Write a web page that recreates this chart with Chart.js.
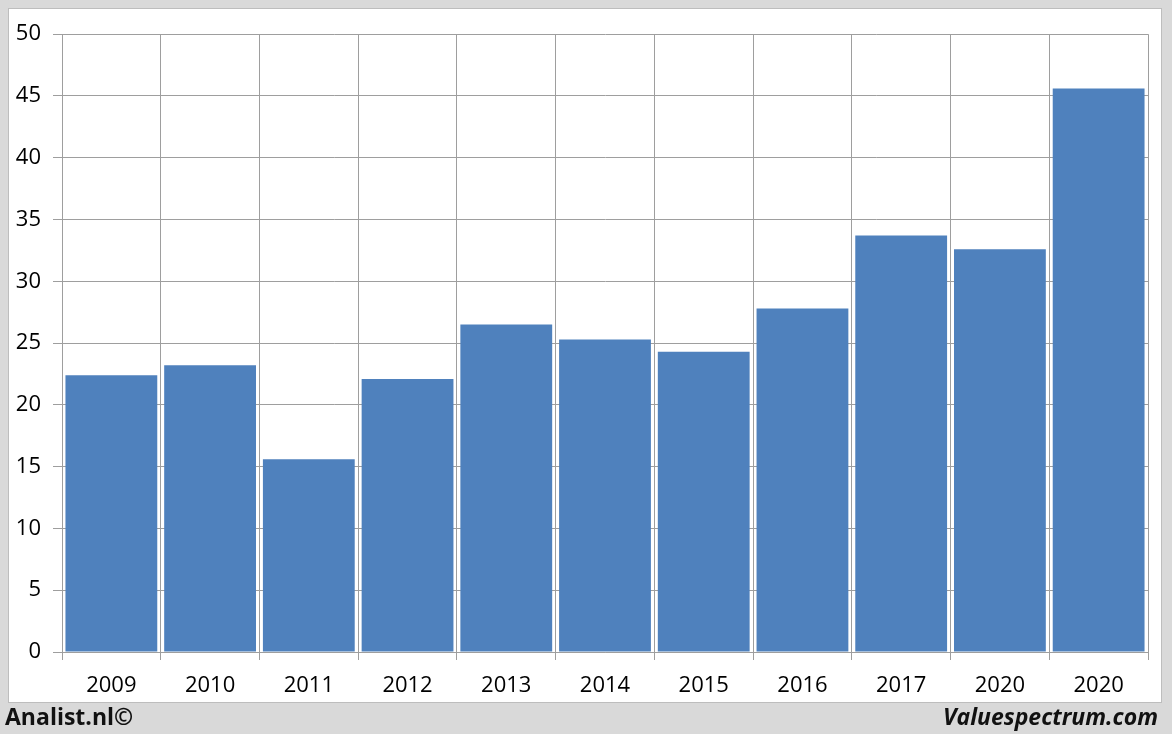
<!DOCTYPE html>
<html>
<head>
<meta charset="utf-8">
<script src="https://cdn.jsdelivr.net/npm/chart.js@4.4.1/dist/chart.umd.min.js"></script>
<style>
  html, body { margin: 0; padding: 0; }
  body { width: 1172px; height: 734px; background: #d9d9d9; position: relative; overflow: hidden; font-family: "Open Sans", sans-serif; }
  #panel { position: absolute; left: 8px; top: 8px; width: 1152px; height: 693px; background: #fff; border: 1px solid #bdbdbd; }
  #footer-left { position: absolute; left: 5px; top: 700px; font-weight: bold; font-size: 23px; color: #111; }
  #footer-right { position: absolute; right: 14px; top: 700px; font-weight: bold; font-style: italic; font-size: 23px; color: #111; }
</style>
</head>
<body>
<div id="panel"><canvas id="chart" width="1152" height="693"></canvas></div>
<div id="footer-left">Analist.nl©</div>
<div id="footer-right">Valuespectrum.com</div>
<script>
// Years on the x axis (the last two are both labelled 2020 in the source)
const years = ['2009', '2010', '2011', '2012', '2013', '2014', '2015', '2016', '2017', '2020', '2020'];
// Bar heights
const values = [22.4, 23.2, 15.6, 22.1, 26.5, 25.3, 24.3, 27.8, 33.7, 32.6, 45.6];
// Y axis range and step
const yMin = 0;
const yMax = 50;
const yStep = 5;

const gridColor = '#9e9e9e';
const tickFont = { family: '"Open Sans", sans-serif', size: 22 };

const ctx = document.getElementById('chart').getContext('2d');
new Chart(ctx, {
    type: 'bar',
    data: {
        labels: years,
        datasets: [{
            data: values,
            backgroundColor: '#4f81bd',
            borderWidth: 0,
            barPercentage: 0.93,
            categoryPercentage: 1.0
        }]
    },
    options: {
        responsive: false,
        animation: false,
        layout: { padding: { top: 25, right: 13, bottom: 0, left: 0 } },
        plugins: { legend: { display: false }, tooltip: { enabled: false } },
        scales: {
            x: {
                offset: true,
                grid: { offset: true, color: gridColor, lineWidth: 1, tickLength: 8, drawTicks: true },
                border: { color: gridColor },
                ticks: { color: '#000', font: tickFont, padding: 13, maxRotation: 0, autoSkip: false },
                afterFit: scale => { scale.height = 50; }
            },
            y: {
                min: yMin,
                max: yMax,
                grid: { color: gridColor, lineWidth: 1, tickLength: 9 },
                border: { color: gridColor },
                ticks: { stepSize: yStep, color: '#000', font: tickFont, padding: 12 },
                afterFit: scale => { scale.width = 53; }
            }
        }
    }
});
</script>
</body>
</html>
